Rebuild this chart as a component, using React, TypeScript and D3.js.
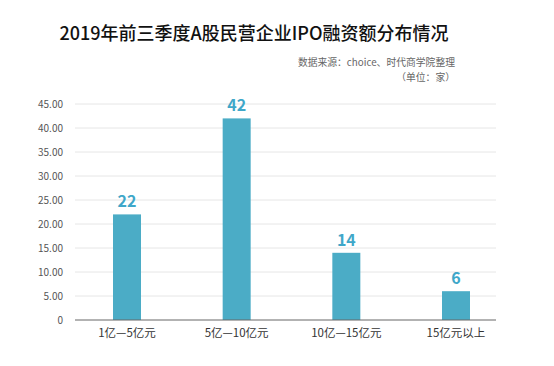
import React from 'react'
import * as d3 from 'd3'

const categories = ['1亿—5亿元', '5亿—10亿元', '10亿—15亿元', '15亿元以上']
const counts = [22, 42, 14, 6]
const yTicks = [0, 5, 10, 15, 20, 25, 30, 35, 40, 45]

const title = '2019年前三季度A股民营企业IPO融资额分布情况'
const source = '数据来源：choice、时代商学院整理'
const unit = '（单位：家）'

const W = 554
const H = 366
const FONT = '"Noto Sans CJK SC", "Noto Sans", sans-serif'
const BAR = '#4bacc6'

export default function App() {
  // bar centres
  const x = d3.scalePoint<string>().domain(categories).range([127, 456])
  const barW = 28
  const y = d3.scaleLinear().domain([0, 45]).range([320, 104])
  const gridLeft = 75
  const gridRight = 496

  return (
    <svg width={W} height={H} style={{ position: 'absolute', left: 0, top: 0, background: '#fff' }} fontFamily={FONT}>
      <text x={254} y={40} textAnchor="middle" fontSize={18} fontWeight={500} fill="#111">{title}</text>
      <text x={455} y={66} textAnchor="end" fontSize={9.8} fill="#666">{source}</text>
      <text x={455} y={81} textAnchor="end" fontSize={9.8} fill="#666">{unit}</text>

      {yTicks.map(t => (
        <g key={t}>
          {t > 0 && <line x1={gridLeft} x2={gridRight} y1={y(t)} y2={y(t)} stroke="#e6e6e6" strokeWidth={1} />}
          <text x={63} y={y(t)} dy="0.35em" textAnchor="end" fontSize={10} fill="#555">
            {t === 0 ? '0' : d3.format('.2f')(t)}
          </text>
        </g>
      ))}

      {categories.map((c, i) => {
        const cx = x(c) ?? 0
        return (
          <g key={c}>
            <rect x={cx - barW / 2} y={y(counts[i])} width={barW} height={y(0) - y(counts[i])} fill={BAR} />
            <text x={cx} y={y(counts[i]) - 7} textAnchor="middle"
              fontSize={16} fontWeight={700} fill="#3fa7c9">{counts[i]}</text>
            <text x={cx} y={337} textAnchor="middle" fontSize={11.5} fill="#333">{c}</text>
          </g>
        )
      })}

      <line x1={gridLeft} x2={gridRight} y1={y(0)} y2={y(0)} stroke="#666" strokeWidth={1} />
    </svg>
  )
}
